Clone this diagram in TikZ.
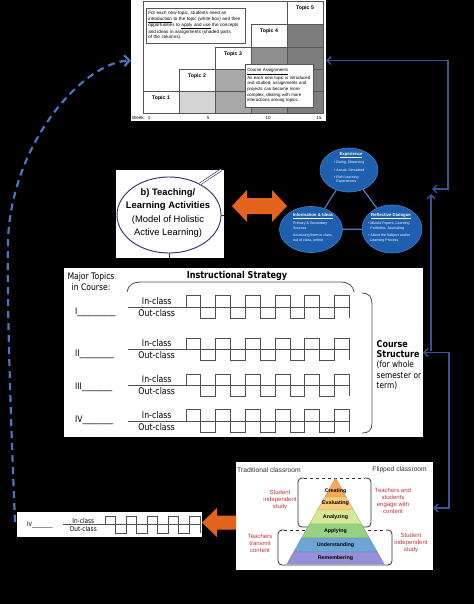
\documentclass[tikz,border=0pt]{standalone}
\usepackage{fontspec}
\setmainfont{Liberation Sans}
\newfontfamily\tah[FakeStretch=0.85]{DejaVu Sans}
\usetikzlibrary{shapes.geometric,arrows.meta,calc}
\definecolor{navy}{RGB}{55,85,150}
\definecolor{dashblue}{RGB}{72,118,192}
\definecolor{ellblue}{RGB}{30,95,175}
\definecolor{ellline}{RGB}{75,125,195}
\definecolor{orng}{RGB}{228,100,30}
\definecolor{gridgray}{RGB}{85,85,85}
\definecolor{shA}{RGB}{212,212,212}
\definecolor{shB}{RGB}{168,168,168}
\definecolor{shC}{RGB}{142,142,142}
\definecolor{shD}{RGB}{125,125,125}
\definecolor{wavegray}{RGB}{80,80,80}
\definecolor{bloomred}{RGB}{185,55,55}
\definecolor{txtgray}{RGB}{50,50,50}
\definecolor{tlnavy}{RGB}{45,45,105}
\definecolor{pyA}{RGB}{245,170,90}
\definecolor{pyB}{RGB}{250,205,120}
\definecolor{pyC}{RGB}{215,232,150}
\definecolor{pyD}{RGB}{150,210,130}
\definecolor{pyE}{RGB}{110,165,215}
\definecolor{pyF}{RGB}{150,145,215}
\newcommand\sqwave[6]{%
  \draw[wv] (#1,#2) -- (#1,#3)
    \foreach \k in {1,...,#6}{ -- ++(#5,0) -- ++(0,#4-#3) -- ++(#5,0) -- ++(0,#3-#4)}
    -- ++(#5,0) -- ++(0,#4-#3);
}
\begin{document}
\begin{tikzpicture}[x=1pt,y=-1pt,
  box/.style={fill=white, inner sep=0pt, draw=none},
  conn/.style={draw=navy, line width=1.3pt},
  barbs/.style={{Straight Barb[length=4pt,width=8pt]}-{Straight Barb[length=4pt,width=8pt]}},
  barbe/.style={-{Straight Barb[length=4pt,width=8pt]}},
  gridl/.style={draw=gridgray, line width=0.5pt},
  wv/.style={draw=wavegray, line width=0.8pt},
  brc/.style={draw=wavegray, line width=0.8pt},
  topic/.style={font=\bfseries\fontsize{5.2}{6}\selectfont, inner sep=0pt},
  wk/.style={font=\fontsize{4.5}{5}\selectfont, inner sep=0pt},
  blell/.style={ellipse, fill=ellblue, draw=ellline, line width=0.6pt, inner sep=0pt},
  eltitle/.style={font=\bfseries\fontsize{4.3}{5}\selectfont, text=white, inner sep=0pt},
  eltext/.style={anchor=north west, align=left, text=white, font=\fontsize{3.6}{4.3}\selectfont, inner sep=0pt},
  stxt/.style={font=\tah\fontsize{9.2}{10}\selectfont, inner sep=0pt},
  rlab/.style={anchor=base west, font=\tah\fontsize{9}{10}\selectfont, inner sep=0pt},
  redt/.style={align=center, text=bloomred, font=\fontsize{6}{7}\selectfont, inner sep=0pt},
  pyl/.style={font=\bfseries\fontsize{5.3}{6}\selectfont, inner sep=0pt},
  rbox/.style={draw=txtgray, line width=0.8pt, rounded corners=4pt}
]
\fill[black] (0,0) rectangle (474,604);
\useasboundingbox (0,0) rectangle (474,604);

% ---------- top box ----------
\node[box, minimum width=195pt, minimum height=121pt] (top) at (228.5,60.5) {};
\fill[shA] (179,91) rectangle (215,113);
\fill[shB] (215,69) rectangle (251,113);
\fill[shC] (251,47) rectangle (287,113);
\fill[shD] (287,24) rectangle (323,113);
\draw[gridl] (143,1.5) rectangle (323,113);
\draw[gridl] (143,91) -- (323,91) (179,69) -- (323,69) (215,47) -- (323,47) (251,24) -- (323,24);
\draw[gridl] (179,69) -- (179,113) (215,47) -- (215,113) (251,24) -- (251,113) (287,1.5) -- (287,113);
\node[topic] (t1) at (161,98.5) {Topic 1};
\node[topic] (t2) at (197,76) {Topic 2};
\node[topic] (t3) at (233,54) {Topic 3};
\node[topic] (t4) at (269,31) {Topic 4};
\node[topic] (t5) at (305,8) {Topic 5};
\node[draw=gridgray, line width=0.5pt, fill=white, anchor=north west, inner sep=2pt,
      text width=95pt, minimum height=35pt, align=left, font=\fontsize{4.6}{5.6}\selectfont] (intro) at (146,8)
  {For each new topic, students need an\\ \underline{introduction} to the topic (white box) and then\\ opportunities to \underline{apply and use} the concepts\\ and ideas in assignments (shaded parts\\ of the columns).};
\node[draw=gridgray, line width=0.5pt, fill=white, anchor=north west, inner sep=2pt,
      text width=64pt, minimum height=43pt, align=left, font=\fontsize{4.4}{5.7}\selectfont] (assign) at (245,64)
  {\underline{Course Assignments}\\ As each new topic is introduced\\ and studied, assignments and\\ projects can become more\\ complex, dealing with more\\ interactions among topics.};
\node[wk, anchor=west] (wk1) at (132,117.5) {Week:\hspace{3pt}1};
\node[wk] (wk5) at (208,117.5) {5};
\node[wk] (wk10) at (268,117.5) {10};
\node[wk] (wk15) at (319,117.5) {15};

% ---------- teaching ----------
\node[box, minimum width=108pt, minimum height=88pt] (teach) at (170,214) {};
\node[ellipse, draw=tlnavy, line width=0.9pt, minimum width=104pt, minimum height=76pt, inner sep=0pt] (tell) at (169,215) {};
\draw[tlnavy, double=white, double distance=1.3pt, line width=0.6pt] (tell.45) -- ($(teach.north east)+(-3,0)$);
\draw[tlnavy, line width=0.8pt] (tell.east) -- (tell.east -| teach.east);
\draw[tlnavy, line width=0.8pt] (tell.south) -- (tell.south |- teach.south);
\node[align=center, inner sep=0pt, font=\fontsize{9.4}{13.5}\selectfont] (ttxt) at (168,213)
  {\textbf{b) Teaching/}\\ \textbf{Learning Activities}\\ (Model of Holistic\\ Active Learning)};

% ---------- blue cluster ----------
\node[blell, minimum width=58pt, minimum height=44pt] (exp) at (349,170) {};
\node[blell, minimum width=63pt, minimum height=46pt] (info) at (311,229.5) {};
\node[blell, minimum width=60pt, minimum height=48pt] (refl) at (392,229) {};
\draw[ellline, line width=1.2pt] (exp) -- (info);
\draw[ellline, line width=1.2pt] (exp) -- (refl);
\draw[ellline, line width=1.2pt] (info) -- (refl);
\node[eltitle] (expt) at (351,155) {\underline{Experience}};
\node[eltext] (expb) at (334,161) {• Doing, Observing\\[3pt] • Actual, Simulated\\[3pt] • Rich Learning\\ \phantom{• }Experiences};
\node[eltitle] (infot) at (313,216) {\underline{Information \& Ideas}};
\node[eltext] (infob) at (293,222) {Primary \& Secondary\\ Sources\\[3.4pt] Accessing them in class,\\ out of class, online};
\node[eltitle] (reflt) at (391,216) {\underline{Reflective Dialogue}};
\node[eltext] (reflb) at (368,222) {• Minute Papers, Learning\\ \phantom{• }Portfolios, Journaling\\[3.4pt] • About the Subject and/or\\ \phantom{• }Learning Process};

% ---------- orange double arrow ----------
\fill[orng] (232,206) -- (247,190) -- (247,198) -- (272,198) -- (272,190) -- (287,206)
  -- (272,222) -- (272,214) -- (247,214) -- (247,222) -- cycle;

% ---------- strategy box ----------
\node[box, minimum width=359pt, minimum height=169pt] (strat) at (243.5,352.5) {};
\node[align=center, inner sep=0pt, font=\tah\fontsize{9}{11}\selectfont] (major) at (91,282) {Major Topics\\in Course:};
\node[inner sep=0pt, font=\tah\bfseries\fontsize{9.5}{11}\selectfont] (strategy) at (237,275.5) {Instructional Strategy};
\draw[brc] (127,292) .. controls (128,285) and (133,282) .. (142,282) -- (340,282) .. controls (349,282) and (353,286) .. (354,292);
\draw[brc] (362,293) .. controls (369,293) and (372,297) .. (372,304) -- (372,423) .. controls (372,430) and (369,433) .. (362,433);
\node[anchor=west, align=left, inner sep=0pt, font=\tah\fontsize{8.7}{10.3}\selectfont] (cstruct) at (376.5,365)
  {\textbf{\fontsize{9.4}{10.3}\selectfont Course}\\ \textbf{\fontsize{9.4}{10.3}\selectfont Structure}\\ (for whole\\ semester or\\ term)};

% row I
\node[rlab] (lab1) at (75,314) {I\_\_\_\_\_\_\_\_\_\_};
\node[stxt] (in1) at (156.7,301.5) {In-class};
\node[stxt] (out1) at (156.7,313) {Out-class};
\draw[wv] (128,307) -- (349.4,307);
\sqwave{186}{307}{295}{318}{14.85}{5}
% row II
\node[rlab] (lab2) at (75,356) {II\_\_\_\_\_\_\_\_\_};
\node[stxt] (in2) at (156.7,343.5) {In-class};
\node[stxt] (out2) at (156.7,355) {Out-class};
\draw[wv] (128,349) -- (349.4,349);
\sqwave{186}{349}{338}{360}{14.85}{5}
% row III
\node[rlab] (lab3) at (75,389) {III\_\_\_\_\_\_\_\_};
\node[stxt] (in3) at (156.7,379.5) {In-class};
\node[stxt] (out3) at (156.7,391) {Out-class};
\draw[wv] (128,385) -- (349.4,385);
\sqwave{186}{385}{374}{396}{14.85}{5}
% row IV
\node[rlab] (lab4) at (75,422) {IV\_\_\_\_\_\_\_\_};
\node[stxt] (in4) at (156.7,415.5) {In-class};
\node[stxt] (out4) at (156.7,427) {Out-class};
\draw[wv] (128,421) -- (349.4,421);
\sqwave{186}{421}{409}{432}{14.85}{5}

% ---------- Bloom box ----------
\node[box, minimum width=197pt, minimum height=108pt] (bloom) at (334.5,516) {};
\node[anchor=west, inner sep=0pt, text=txtgray, font=\fontsize{6.7}{8}\selectfont] (trad) at (237,470) {Traditional classroom};
\node[anchor=east, inner sep=0pt, text=txtgray, font=\fontsize{6.7}{8}\selectfont] (flip) at (427,470) {Flipped classroom};
\draw[rbox] (304,478) -- (298,478) -- (298,527) -- (371,527) -- (371,478) -- (365,478);
\draw[txtgray, line width=0.7pt, dashed] (304,478) -- (365,478);
\draw[rbox] (284,530) -- (278,530) -- (278,565) -- (392,565) -- (392,530) -- (386,530);
\draw[txtgray, line width=0.7pt, dashed] (284,530) -- (386,530);
\filldraw[fill=pyA, draw=pyA!80!black, line width=0.4pt] (335.5,478) -- (346.22,497) -- (324.78,497) -- cycle;
\filldraw[fill=pyB, draw=pyB!80!black, line width=0.4pt] (324.78,497) -- (346.22,497) -- (353.55,510) -- (317.45,510) -- cycle;
\filldraw[fill=pyC, draw=pyC!80!black, line width=0.4pt] (317.45,510) -- (353.55,510) -- (361.44,524) -- (309.56,524) -- cycle;
\filldraw[fill=pyD, draw=pyD!80!black, line width=0.4pt] (309.56,524) -- (361.44,524) -- (369.34,538) -- (301.66,538) -- cycle;
\filldraw[fill=pyE, draw=pyE!80!black, line width=0.4pt] (301.66,538) -- (369.34,538) -- (377.23,552) -- (293.77,552) -- cycle;
\filldraw[fill=pyF, draw=pyF!80!black, line width=0.4pt] (293.77,552) -- (377.23,552) -- (384,564) -- (287,564) -- cycle;
\node[pyl] (p1) at (335.5,491) {Creating};
\node[pyl] (p2) at (335.5,503.5) {Evaluating};
\node[pyl] (p3) at (335.5,517) {Analyzing};
\node[pyl] (p4) at (335.5,531) {Applying};
\node[pyl] (p5) at (335.5,545) {Understanding};
\node[pyl] (p6) at (335.5,558) {Remembering};
\node[redt] (r1) at (280,500) {Student\\independent\\study};
\node[redt] (r2) at (393,500.5) {Teachers and\\students\\engage with\\content};
\node[redt] (r3) at (260,543) {Teachers\\transmit\\content};
\node[redt] (r4) at (411,543) {Student\\independent\\study};

% ---------- bottom-left box ----------
\node[box, minimum width=185pt, minimum height=25pt] (ivb) at (109.5,524.5) {};
\node[anchor=base west, inner sep=0pt, font=\tah\fontsize{6}{7}\selectfont] (ivlab) at (27,526) {IV\_\_\_\_\_\_\_\_};
\node[inner sep=0pt, font=\tah\fontsize{6.8}{7}\selectfont] (ivin) at (83.3,520.5) {In-class};
\node[inner sep=0pt, font=\tah\fontsize{6.8}{7}\selectfont] (ivout) at (83.3,529.3) {Out-class};
\draw[wv] (63,524) -- (200,524);
\sqwave{105}{524}{516}{533}{10.55}{4}

% ---------- orange single arrow ----------
\fill[orng] (202,522.5) -- (217,508) -- (217,515.5) -- (236,515.5) -- (236,529.5) -- (217,529.5) -- (217,537) -- cycle;

% ---------- navy connectors ----------
\coordinate (a1) at (448,60.5);
\coordinate (a2) at (448,189);
\coordinate (a3) at (432,189);
\draw[conn, barbs] (top.east) -- (a1) -- (a2) -- (a3);
\coordinate (b1) at (431,351);
\coordinate (b2) at (431,194);
\draw[conn, barbe] (b1) -- (b2);
\coordinate (b3) at (449,352.5);
\coordinate (b4) at (449,508);
\draw[conn, barbs] (strat.east) -- (b3) -- (b4) -- (b4 -| bloom.east);

% ---------- dashed curve ----------
\coordinate (d0) at (15,522);
\draw[dashblue, line width=2.2pt, dash pattern=on 7pt off 5pt, -{Straight Barb[length=5pt,width=11pt]}]
  (d0) .. controls (10,400) and (7,300) .. (8,240) .. controls (12,140) and (85,62) .. (top.west);
\end{tikzpicture}
\end{document}
